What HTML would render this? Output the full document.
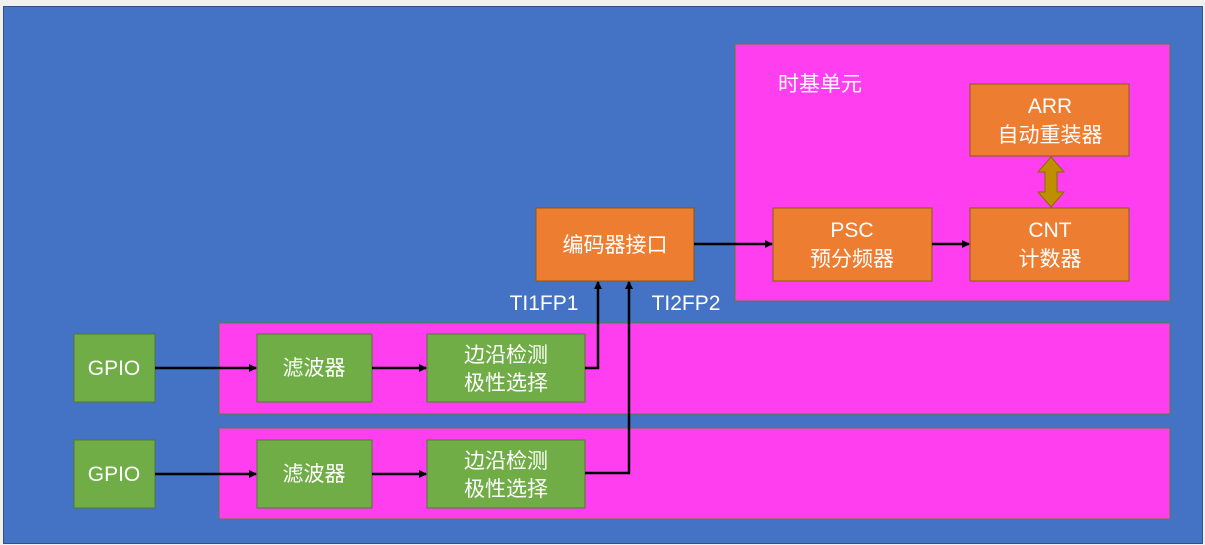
<!DOCTYPE html>
<html><head><meta charset="utf-8"><style>
html,body{margin:0;padding:0;background:#f0f0f0;}
svg{display:block;}
text{font-family:"Liberation Sans","Noto Sans CJK SC",sans-serif;fill:#fff;font-size:21px;text-anchor:middle;}
</style></head><body>
<svg width="1205" height="545" viewBox="0 0 1205 545">
<defs><marker id="a" markerWidth="8" markerHeight="8" refX="7" refY="4" orient="auto" markerUnits="userSpaceOnUse"><path d="M0,0 L8,4 L0,8 Z" fill="#000"/></marker></defs>
<rect x="3.5" y="6.5" width="1199" height="537" fill="#4472c4" stroke="#2f528f"/>
<rect x="735" y="44" width="435" height="257" fill="#ff3ef0" stroke="#548235"/>
<rect x="219" y="323" width="951" height="91" fill="#ff3ef0" stroke="#548235"/>
<rect x="219" y="428" width="951" height="91" fill="#ff3ef0" stroke="#548235"/>
<text x="820" y="91" text-anchor="middle">时基单元</text>
<g fill="#ed7d31" stroke="#8a5a10">
<rect x="536" y="208" width="158" height="73"/>
<rect x="773" y="208" width="159" height="73"/>
<rect x="970" y="208" width="159" height="73"/>
<rect x="970" y="84" width="159" height="72"/>
</g>
<g fill="#70ad47" stroke="#4e7a30">
<rect x="74" y="334" width="81" height="68"/>
<rect x="257" y="334" width="115" height="68"/>
<rect x="427" y="334" width="158" height="68"/>
<rect x="74" y="440" width="81" height="68"/>
<rect x="257" y="440" width="115" height="68"/>
<rect x="427" y="440" width="158" height="68"/>
</g>
<path d="M1051,157 L1064,172 L1057,172 L1057,192 L1064,192 L1051,207 L1038,192 L1045,192 L1045,172 L1038,172 Z" fill="#bf8f00" stroke="#8a6a00"/>
<text x="615" y="252">编码器接口</text>
<text x="852" y="237">PSC</text><text x="852" y="266">预分频器</text>
<text x="1050" y="237">CNT</text><text x="1050" y="266">计数器</text>
<text x="1050" y="113">ARR</text><text x="1050" y="142">自动重装器</text>
<text x="114" y="375">GPIO</text><text x="114" y="481">GPIO</text>
<text x="314" y="375">滤波器</text><text x="314" y="481">滤波器</text>
<text x="506" y="362">边沿检测</text><text x="506" y="390">极性选择</text>
<text x="506" y="468">边沿检测</text><text x="506" y="496">极性选择</text>
<text x="544" y="310">TI1FP1</text><text x="686" y="310">TI2FP2</text>
<g stroke="#000" stroke-width="2.5" fill="none">
<line x1="694" y1="244" x2="772" y2="244" marker-end="url(#a)"/>
<line x1="932" y1="244" x2="969" y2="244" marker-end="url(#a)"/>
<line x1="155" y1="368" x2="256" y2="368" marker-end="url(#a)"/>
<line x1="372" y1="368" x2="426" y2="368" marker-end="url(#a)"/>
<line x1="155" y1="474" x2="256" y2="474" marker-end="url(#a)"/>
<line x1="372" y1="474" x2="426" y2="474" marker-end="url(#a)"/>
<polyline points="585,368 598,368 598,282" marker-end="url(#a)"/>
<polyline points="585,473 629,473 629,282" marker-end="url(#a)"/>
</g>
</svg>
</body></html>
